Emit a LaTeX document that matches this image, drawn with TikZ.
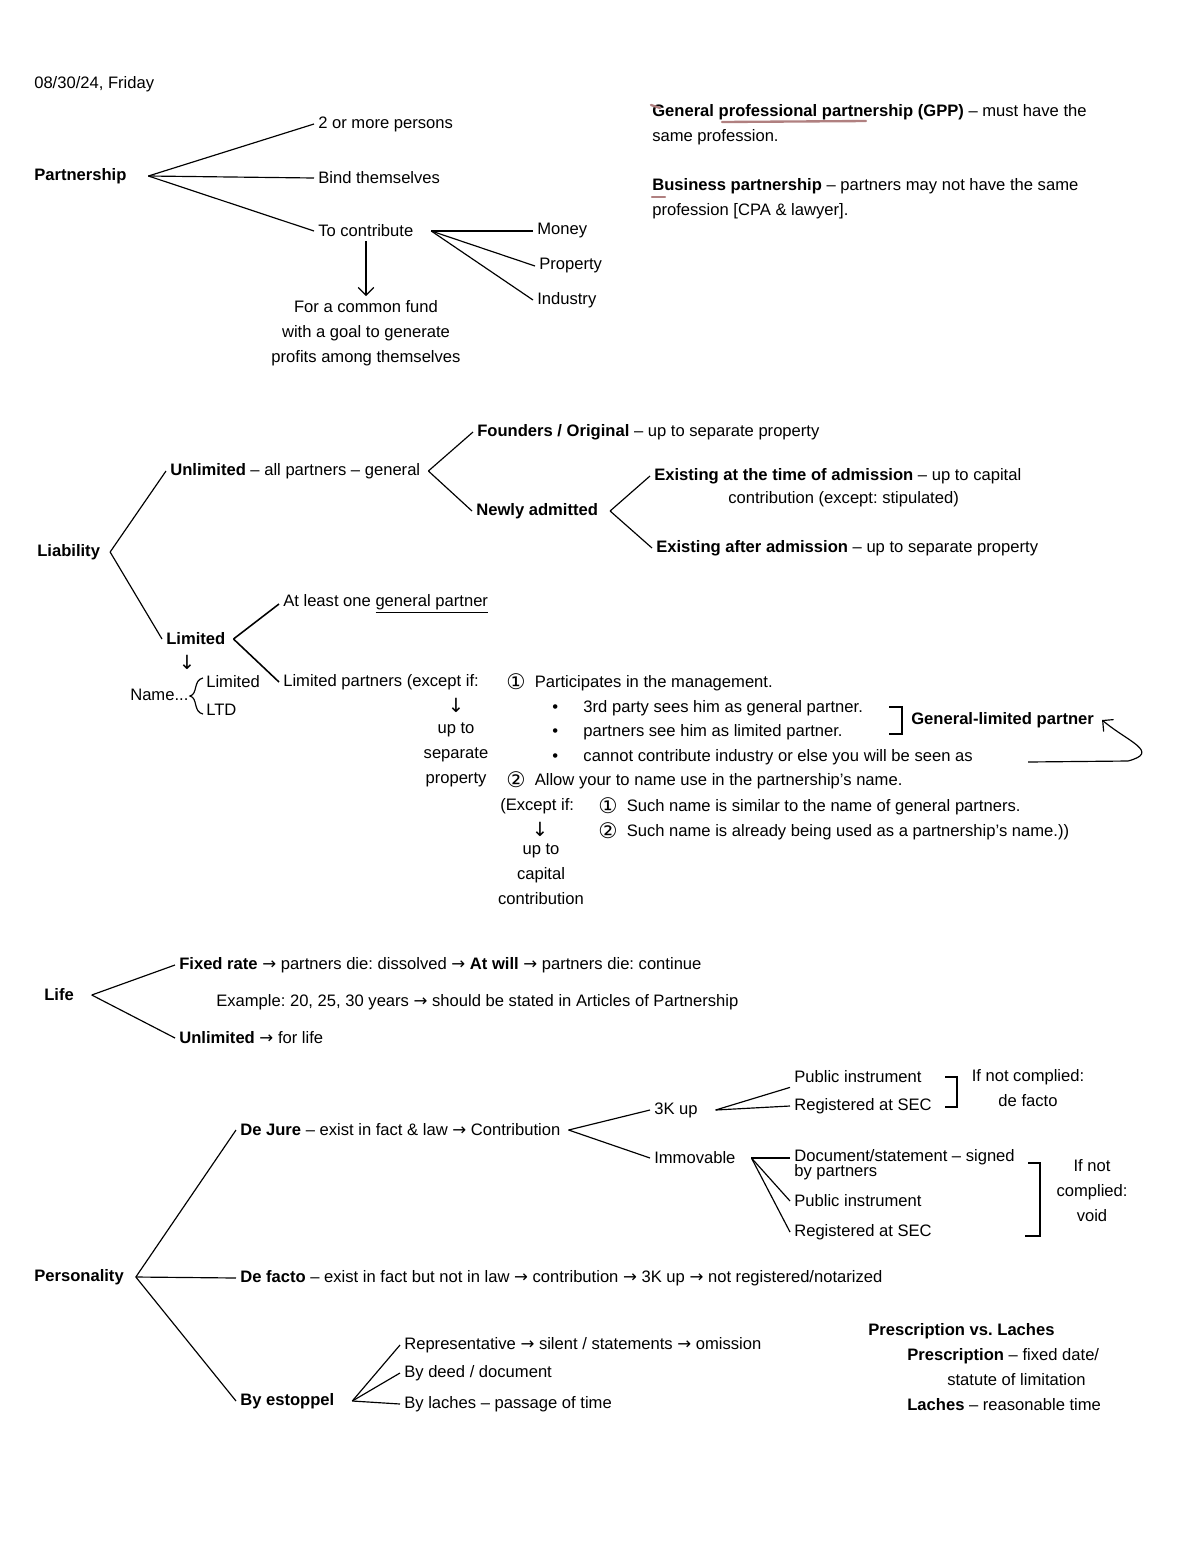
\documentclass[tikz,border=0pt]{standalone}
\usepackage{fontspec}
\setmainfont{Liberation Sans}
\newfontfamily\symfont{DejaVu Sans}
\usetikzlibrary{arrows.meta,positioning}
\newcommand{\ra}{{\symfont →}}
\newcommand{\dn}{{\symfont ↓}}
\newcommand{\cone}{\raisebox{-1pt}{\symfont\fontsize{11}{12}\selectfont ①}}
\newcommand{\ctwo}{\raisebox{-1pt}{\symfont\fontsize{11}{12}\selectfont ②}}
\definecolor{pen}{RGB}{176,128,128}
\frenchspacing

\begin{document}
\begin{tikzpicture}[x=0.018cm,y=-0.018cm,
  note/.style={anchor=west,inner sep=2pt,align=left,font=\fontsize{8.5}{12.8}\selectfont},
  head/.style={note,font=\fontsize{8.5}{12.8}\selectfont\bfseries},
  branch/.style={line width=0.6pt},
  stack/.style={note,anchor=north,align=center}]
  \fill[white] (0,0) rectangle (1200,1551);
  \useasboundingbox (0,0) rectangle (1200,1551);

  \node[note] (date) at (30,84) {08/30/24, Friday};

  % Partnership and its three elements
  \node[head] (pship) at (30,176) {Partnership};
  \coordinate[right=9pt of pship] (pv);
  \node[note] (two) at (314,124) {2 or more persons};
  \node[note] (bind) at (314,178) {Bind themselves};
  \node[note] (contr) at (314,231) {To contribute};
  \draw[branch] (pv) -- (two.west);
  \draw[branch] (pv) -- (bind.west);
  \draw[branch] (pv) -- (contr.west);
  \coordinate[right=7pt of contr] (cv);
  \node[note] (money) at (533,231) {Money};
  \node[note] (prop) at (535,266) {Property};
  \node[note] (indus) at (533,300) {Industry};
  \draw[branch] (cv) -- (money.west);
  \draw[branch] (cv) -- (prop.west);
  \draw[branch] (cv) -- (indus.west);
  \node[stack] (fund) at (366,296) {For a common fund\\with a goal to generate\\profits among themselves};
  \draw[branch,-{Straight Barb[length=4pt]}] (fund.north |- contr.south) -- (fund.north); % to the common fund

  % kinds of partnership, top right
  \node[note] (gpp) at (648,125) {\textbf{General professional partnership (GPP)} – must have the\\same profession.};
  \node[note] (bp) at (648,199) {\textbf{Business partnership} – partners may not have the same\\profession [CPA \& lawyer].};
  \draw[pen,line width=1.2pt,line cap=round] (651,105) -- (660,108);
  \draw[pen,line width=1.2pt,line cap=round] (722,122) -- (866,121);
  \draw[pen,line width=1.2pt,line cap=round] (652,197) -- (665,197);

  % Liability
  \node[head] (liab) at (33,552) {Liability};
  \coordinate[right=3pt of liab] (lv);
  \node[note] (unl) at (166,471) {\textbf{Unlimited} – all partners – general};
  \node[head] (lim) at (162,639) {Limited};
  \draw[branch] (lv) -- (unl.west);
  \draw[branch] (lv) -- (lim.west);
  \coordinate[right=2pt of unl] (uv);
  \node[note] (found) at (473,432) {\textbf{Founders / Original} – up to separate property};
  \node[head] (newly) at (472,511) {Newly admitted};
  \draw[branch] (uv) -- (found.west);
  \draw[branch] (uv) -- (newly.west);
  \coordinate[right=4pt of newly] (nv);
  \node[note] (atadm) at (650,476) {\textbf{Existing at the time of admission} – up to capital};
  \node[note] (atadm2) at (724,499) {contribution (except: stipulated)};
  \node[note] (afadm) at (652,548) {\textbf{Existing after admission} – up to separate property};
  \draw[branch] (nv) -- (atadm.west);
  \draw[branch] (nv) -- (afadm.west);

  % limited partners
  \coordinate[right=2pt of lim] (lmv);
  \node[note] (atleast) at (279,604) {At least one \underline{general partner}};
  \node[note] (limp) at (279,682) {Limited partners (except if:};
  \draw[thick] (lmv) -- (atleast.west);
  \draw[thick] (lmv) -- (limp.west);
  \node[note] (c1) at (502,682) {\cone\ \ Participates in the management.};
  \node (dn1) at (456,705) {\dn};
  \node[stack] (sep) at (456,718) {up to\\separate\\property};
  \node[note] (b1) at (548,708) {\textbullet\hspace{13pt}3rd party sees him as general partner.};
  \node[note] (b2) at (548,732) {\textbullet\hspace{13pt}partners see him as limited partner.};
  \node[note] (b3) at (548,757) {\textbullet\hspace{13pt}cannot contribute industry or else you will be seen as};
  \draw[branch] (889,707) -- (902,707) -- (902,734) -- (889,734); % bracket round the first two points
  \node[head] (glp) at (907,720) {General-limited partner};
  \coordinate (bl1) at (1028,762);
  \coordinate (bl2) at (1128,761);
  \draw[branch,-{Straight Barb[length=4pt]}] (bl1) -- (bl2) to[out=15,in=-40,looseness=1.8] ([xshift=2pt]glp.east);
  \node[note] (c2) at (502,780) {\ctwo\ \ Allow your to name use in the partnership's name.};
  \node[note] (exc) at (496,806) {(Except if:};
  \node[note] (c3) at (594,806) {\cone\ \ Such name is similar to the name of general partners.};
  \node[note] (c4) at (594,831) {\ctwo\ \ Such name is already being used as a partnership's name.))};
  \node (dn2) at (540,829) {\dn};
  \node[stack] (cap) at (541,839) {up to\\capital\\contribution};

  % name of a limited partnership
  \node (dn3) at (187,662) {\dn};
  \node[note] (name) at (126,695) {Name...};
  \draw[branch] (203,678) .. controls (193,680) and (198,694) .. (190,696) .. controls (198,698) and (193,712) .. (203,714);
  \node[note] (nl) at (202,682) {Limited};
  \node[note] (ltd) at (202,710) {LTD};

  % Life
  \node[head] (life) at (40,995) {Life};
  \coordinate[right=7pt of life] (lfv);
  \node[note] (fixed) at (175,965) {\textbf{Fixed rate} \ra\ partners die: dissolved \ra\ \textbf{At will} \ra\ partners die: continue};
  \node[note] (example) at (212,1002) {Example: 20, 25, 30 years \ra\ should be stated in Articles of Partnership};
  \node[note] (unlife) at (175,1038) {\textbf{Unlimited} \ra\ for life};
  \draw[branch] (lfv) -- (fixed.west);
  \draw[branch] (lfv) -- (unlife.west);

  % Personality
  \node[head] (pers) at (30,1277) {Personality};
  \coordinate[right=4pt of pers] (psv);
  \node[note] (jure) at (236,1130) {\textbf{De Jure} – exist in fact \& law \ra\ Contribution};
  \node[note] (facto) at (236,1278) {\textbf{De facto} – exist in fact but not in law \ra\ contribution \ra\ 3K up \ra\ not registered/notarized};
  \node[head] (estop) at (236,1401) {By estoppel};
  \draw[branch] (psv) -- (jure.west);
  \draw[branch] (psv) -- (facto.west);
  \draw[branch] (psv) -- (estop.west);
  \coordinate[right=2pt of jure] (jv);
  \node[note] (threek) at (650,1110) {3K up};
  \node[note] (immov) at (650,1158) {Immovable};
  \draw[branch] (jv) -- (threek.west);
  \draw[branch] (jv) -- (immov.west);
  \coordinate[right=7pt of threek] (tkv);
  \node[note] (pub1) at (790,1077) {Public instrument};
  \node[note] (reg1) at (790,1106) {Registered at SEC};
  \draw[branch] (tkv) -- (pub1.south west);
  \draw[branch] (tkv) -- (reg1.west);
  \draw[branch] (945,1077) -- (957,1077) -- (957,1107) -- (945,1107); % bracket
  \node[stack] (nc1) at (1028,1065) {If not complied:\\de facto};
  \coordinate[right=6pt of immov] (imv);
  \node[note] (doc) at (790,1165) {Document/statement – signed\\[-5pt]by partners};
  \node[note] (pub2) at (790,1201) {Public instrument};
  \node[note] (reg2) at (790,1232) {Registered at SEC};
  \draw[branch] (imv) -- (imv -| doc.west);
  \draw[branch] (imv) -- (pub2.west);
  \draw[branch] (imv) -- (reg2.west);
  \draw[branch] (1028,1163) -- (1040,1163) -- (1040,1236) -- (1025,1236); % bracket
  \node[stack] (nc2) at (1092,1155) {If not\\complied:\\void};
  \coordinate[right=7pt of estop] (esv);
  \node[note] (repr) at (400,1345) {Representative \ra\ silent / statements \ra\ omission};
  \node[note] (deed) at (400,1373) {By deed / document};
  \node[note] (lach) at (400,1404) {By laches – passage of time};
  \draw[branch] (esv) -- (repr.west);
  \draw[branch] (esv) -- (deed.west);
  \draw[branch] (esv) -- (lach.west);

  % Prescription vs. Laches
  \node[head] (pvl) at (864,1331) {Prescription vs. Laches};
  \node[note] (presc) at (903,1356) {\textbf{Prescription} – fixed date/};
  \node[note] (stat) at (943,1380) {statute of limitation};
  \node[note] (laches) at (903,1405) {\textbf{Laches} – reasonable time};
\end{tikzpicture}
\end{document}
